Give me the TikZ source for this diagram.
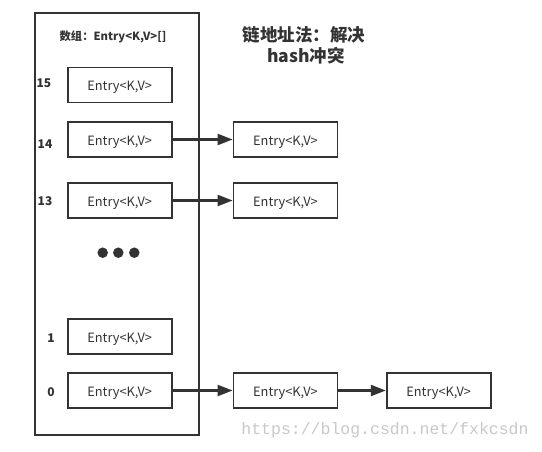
\documentclass[tikz,border=0pt]{standalone}
\usepackage{fontspec}
\setmainfont{Noto Sans CJK SC}
\newfontfamily\wmfont{Liberation Mono}
\usetikzlibrary{arrows.meta}
\definecolor{ink}{HTML}{333333}
\definecolor{wm}{HTML}{C8C8C8}
\begin{document}
\begin{tikzpicture}[x=1pt,y=-1pt,
  entry/.style={draw=ink, line width=1.8pt, minimum width=104pt, minimum height=35pt, inner sep=0pt,
    text height=11.6pt, text depth=0pt, font=\fontsize{12.8}{14}\selectfont, text=ink},
  idx/.style={anchor=base, font=\bfseries\fontsize{12}{14}\selectfont, text=ink},
  link/.style={draw=ink, line width=2.2pt, -{Triangle[length=15pt,width=11pt]}},
  dot/.style={circle, fill=ink, minimum size=10.5pt, inner sep=0pt}]
\useasboundingbox (0,0) rectangle (542,452);
% outer array box
\node[draw=ink, line width=1.8pt, minimum width=164pt, minimum height=422pt, inner sep=0pt] (array) at (117,224) {};
\node[anchor=base, font=\bfseries\fontsize{11.3}{13}\selectfont, text=ink] (atitle) at (113,41) {数组：Entry<K,V>[]};
% title
\node[anchor=base, font=\bfseries\fontsize{17.5}{22}\selectfont, text=ink] (title1) at (304,42) {链地址法：解决};
\node[anchor=base, font=\bfseries\fontsize{17.5}{22}\selectfont, text=ink] (title2) at (306,63) {hash冲突};
% array entries
\node[entry] (l15) at (119.7,85) {Entry<K,V>};
\node[entry] (l14) at (119.7,139.5) {Entry<K,V>};
\node[entry] (l13) at (119.7,200.5) {Entry<K,V>};
\node[entry] (l1) at (119.7,336.5) {Entry<K,V>};
\node[entry] (l0) at (119.7,390.5) {Entry<K,V>};
% indices
\node[idx] (i15) at (44,87.3) {15};
\node[idx] (i14) at (45,148.3) {14};
\node[idx] (i13) at (45,205.7) {13};
\node[idx] (i1) at (51,342.7) {1};
\node[idx] (i0) at (51,396.7) {0};
% dots
\node[dot] (d1) at (102.7,252.7) {};
\node[dot] (d2) at (118.3,252.7) {};
\node[dot] (d3) at (134.3,252.7) {};
% chained entries
\node[entry] (r14) at (285.5,139.5) {Entry<K,V>};
\node[entry] (r13) at (285.5,200.5) {Entry<K,V>};
\node[entry] (r0) at (285.5,390.5) {Entry<K,V>};
\node[entry] (s0) at (438.7,390.5) {Entry<K,V>};
% links
\draw[link] (l14.east) -- (r14.west);
\draw[link] (l13.east) -- (r13.west);
\draw[link] (l0.east) -- (r0.west);
\draw[link] (r0.east) -- (s0.west);
% watermark
\node[anchor=base, font=\wmfont\fontsize{16.5}{18}\selectfont, text=wm] (wmark) at (385,434.5) {https://blog.csdn.net/fxkcsdn};
\end{tikzpicture}
\end{document}
